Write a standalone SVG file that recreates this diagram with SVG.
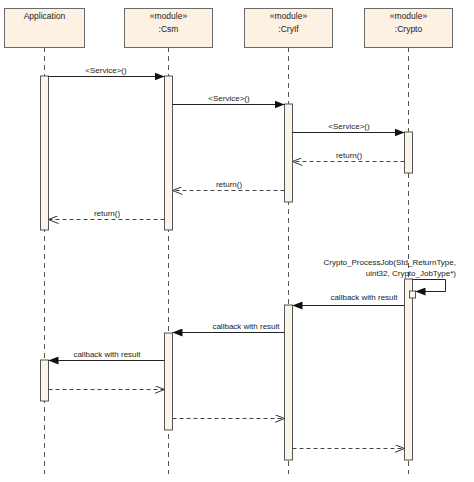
<svg xmlns="http://www.w3.org/2000/svg" width="474" height="482" viewBox="0 0 474 482">
<style>
.hdr{fill:#fcf1e3;stroke:#6b6b6b;stroke-width:1}
.act{fill:#fbf4e9;stroke:#555;stroke-width:1}
.life{stroke:#555;stroke-width:1;stroke-dasharray:5,4;fill:none}
.t{font-family:"Liberation Sans",Arial,sans-serif;font-size:8.5px;fill:#222;text-anchor:middle}
.m{font-family:"Liberation Sans",Arial,sans-serif;font-size:8px;fill:#222;text-anchor:middle}
.e{text-anchor:end}
.call{stroke:#222;stroke-width:1;fill:none}
.ret{stroke:#444;stroke-width:1;stroke-dasharray:4,3;fill:none}
</style>
<defs>
<marker id="fill" markerWidth="10" markerHeight="8" refX="10" refY="4" orient="auto" markerUnits="userSpaceOnUse">
<path d="M0,0 L10,4 L0,8 Z" fill="#111"/>
</marker>
<marker id="open" markerWidth="10" markerHeight="8" refX="10" refY="4" orient="auto" markerUnits="userSpaceOnUse">
<path d="M0,0 L10,4 L0,8" fill="none" stroke="#333" stroke-width="1"/>
</marker>
</defs>
<g id="lifelines">
<line class="life" x1="44.5" y1="47" x2="44.5" y2="474"/>
<line class="life" x1="168.5" y1="47" x2="168.5" y2="474"/>
<line class="life" x1="288.5" y1="47" x2="288.5" y2="474"/>
<line class="life" x1="408.5" y1="47" x2="408.5" y2="474"/>
</g>
<g id="Application">
<rect class="hdr" x="4.5" y="8.5" width="80" height="39"/>
<text class="t" x="44.5" y="19">Application</text>
</g>
<g id="Csm">
<rect class="hdr" x="124.5" y="8.5" width="88" height="39"/>
<text class="t" x="168.5" y="19">«module»</text>
<text class="t" x="168.5" y="32">:Csm</text>
</g>
<g id="CryIf">
<rect class="hdr" x="244.5" y="8.5" width="88" height="39"/>
<text class="t" x="288.5" y="19">«module»</text>
<text class="t" x="288.5" y="32">:CryIf</text>
</g>
<g id="Crypto">
<rect class="hdr" x="364.5" y="8.5" width="88" height="39"/>
<text class="t" x="408.5" y="19">«module»</text>
<text class="t" x="408.5" y="32">:Crypto</text>
</g>
<g id="activations">
<rect class="act" x="40.5" y="76" width="8" height="154"/>
<rect class="act" x="40.5" y="360" width="8" height="41"/>
<rect class="act" x="164.5" y="76" width="8" height="154"/>
<rect class="act" x="164.5" y="333" width="8" height="97"/>
<rect class="act" x="284.5" y="104" width="8" height="98"/>
<rect class="act" x="284.5" y="305" width="8" height="155"/>
<rect class="act" x="404.5" y="132" width="8" height="41"/>
<rect class="act" x="404.5" y="279" width="8" height="181"/>
<rect class="act" x="409.5" y="291" width="6" height="7"/>
</g>
<g id="connectors">
<line class="call" x1="48.5" y1="76.5" x2="164.5" y2="76.5" marker-end="url(#fill)"/>
<text class="m" x="106" y="73">&lt;Service&gt;()</text>
<line class="call" x1="172.5" y1="104.5" x2="284.5" y2="104.5" marker-end="url(#fill)"/>
<text class="m" x="229" y="101">&lt;Service&gt;()</text>
<line class="call" x1="292.5" y1="132.5" x2="404.5" y2="132.5" marker-end="url(#fill)"/>
<text class="m" x="349" y="129">&lt;Service&gt;()</text>
<line class="ret" x1="404.5" y1="161.5" x2="292.5" y2="161.5" marker-end="url(#open)"/>
<text class="m" x="349" y="158">return()</text>
<line class="ret" x1="284.5" y1="190.5" x2="172.5" y2="190.5" marker-end="url(#open)"/>
<text class="m" x="229" y="187">return()</text>
<line class="ret" x1="164.5" y1="219.5" x2="48.5" y2="219.5" marker-end="url(#open)"/>
<text class="m" x="107" y="216">return()</text>
<path class="call" d="M412.5,279.5 H445.5 V291.5 H415.5" marker-end="url(#fill)"/>
<text class="m e" x="456" y="265">Crypto_ProcessJob(Std_ReturnType,</text>
<text class="m e" x="456" y="276">uint32, Crypto_JobType*)</text>
<line class="call" x1="404.5" y1="305.5" x2="292.5" y2="305.5" marker-end="url(#fill)"/>
<text class="m" x="364" y="300">callback with result</text>
<line class="call" x1="284.5" y1="332.5" x2="172.5" y2="332.5" marker-end="url(#fill)"/>
<text class="m" x="246" y="329">callback with result</text>
<line class="call" x1="164.5" y1="360.5" x2="48.5" y2="360.5" marker-end="url(#fill)"/>
<text class="m" x="107" y="357">callback with result</text>
<line class="ret" x1="48.5" y1="389.5" x2="164.5" y2="389.5" marker-end="url(#open)"/>
<line class="ret" x1="172.5" y1="418.5" x2="284.5" y2="418.5" marker-end="url(#open)"/>
<line class="ret" x1="292.5" y1="448.5" x2="404.5" y2="448.5" marker-end="url(#open)"/>
</g>
</svg>
